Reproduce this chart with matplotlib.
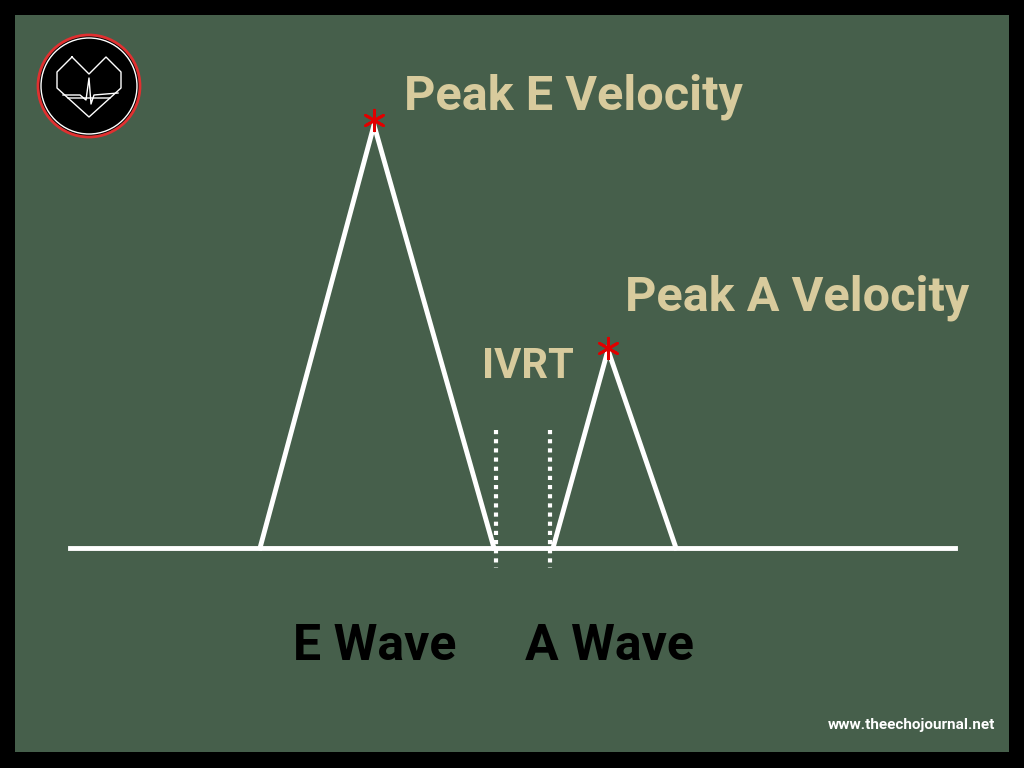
import matplotlib
matplotlib.use("Agg")
import matplotlib.pyplot as plt
from matplotlib.patches import Rectangle, Circle

# Doppler mitral inflow sketch, coordinates in image pixels
baseline_x = [70, 955]
baseline_y = 548
e_wave_x = [260, 374, 494]
e_wave_y = [548, 125, 548]
a_wave_x = [553, 608, 676]
a_wave_y = [548, 350, 548]
ivrt_x = [496, 550]
ivrt_y = [430, 568]
peaks_x = [374, 608]
peaks_y = [120, 348]

BG = "#465f4b"
TAN = "#d8cb9d"
FONT = ["Roboto", "DejaVu Sans"]

fig = plt.figure(figsize=(10.24, 7.68), dpi=100)
fig.patch.set_facecolor("black")
ax = fig.add_axes([0, 0, 1, 1])
ax.set_xlim(0, 1024)
ax.set_ylim(768, 0)
ax.axis("off")

ax.add_patch(Rectangle((15, 15), 994, 737, facecolor=BG, edgecolor="none"))

# logo
ax.add_patch(Circle((89, 86), 51, facecolor="black", edgecolor="#e03030", lw=2))
ax.add_patch(Circle((89, 86), 48, facecolor="none", edgecolor="white", lw=1))
hx = [72, 89, 106, 121, 121, 110, 68, 57, 57, 72]
hy = [57, 74, 57, 72, 88, 98, 98, 88, 72, 57]
ax.plot(hx, hy, color="white", lw=1)
ax.plot([63, 80, 86, 89, 91, 94, 118], [95, 95, 100, 78, 104, 95, 93], color="white", lw=1)
ax.plot([68, 89, 110], [98, 117, 98], color="white", lw=1)

ax.plot(baseline_x, [baseline_y] * 2, color="white", lw=3.5)
ax.plot(e_wave_x, e_wave_y, color="white", lw=3.5, solid_joinstyle="miter")
ax.plot(a_wave_x, a_wave_y, color="white", lw=3.5, solid_joinstyle="miter")
for x in ivrt_x:
    ax.plot([x, x], ivrt_y, color="white", lw=3, linestyle=(0, (1, 1.2)))
ax.scatter(peaks_x, peaks_y, marker=(6, 2, 0), s=220, color="#e00000", lw=2, zorder=5)

ax.text(404, 97, "Peak E Velocity", color=TAN, fontsize=35, fontweight="bold",
        family=FONT, va="center", ha="left")
ax.text(625, 298, "Peak A Velocity", color=TAN, fontsize=35, fontweight="bold",
        family=FONT, va="center", ha="left")
ax.text(528, 367, "IVRT", color=TAN, fontsize=30, fontweight="bold",
        family=FONT, va="center", ha="center")
ax.text(375, 647, "E Wave", color="black", fontsize=36, fontweight="bold",
        family=FONT, va="center", ha="center")
ax.text(609, 647, "A Wave", color="black", fontsize=36, fontweight="bold",
        family=FONT, va="center", ha="center")
ax.text(995, 725, "www.theechojournal.net", color="white", fontsize=11,
        fontweight="bold", family=FONT, va="center", ha="right")

fig.savefig("out.png", dpi=100, facecolor="black")
